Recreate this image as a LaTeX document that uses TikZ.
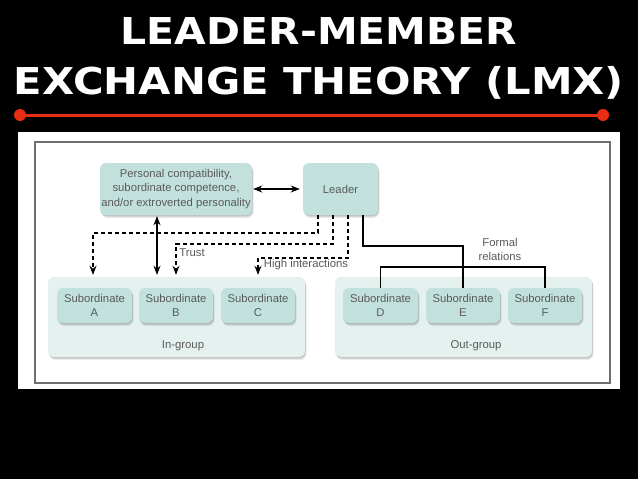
\documentclass[tikz,border=0pt]{standalone}
\usepackage{fontspec}
\setmainfont{Liberation Sans}
\newfontfamily\titlefont{DejaVu Sans}
\usetikzlibrary{arrows.meta}
\definecolor{redline}{RGB}{232,45,20}
\definecolor{boxfill}{RGB}{194,225,221}
\definecolor{groupfill}{RGB}{229,241,239}
\definecolor{txtgray}{RGB}{90,90,90}
\definecolor{framegray}{RGB}{110,110,110}
\tikzset{
  titletext/.style={text=white,anchor=base,inner sep=0pt,font=\titlefont\bfseries\fontsize{37}{40}\selectfont},
  reddot/.style={circle,fill=redline,minimum size=12pt,inner sep=0pt},
  softshadow/.style={
    preaction={fill=black,fill opacity=0.07,transform canvas={xshift=1.5pt,yshift=-3pt}},
    preaction={fill=black,fill opacity=0.09,transform canvas={xshift=1pt,yshift=-2pt}},
    preaction={fill=black,fill opacity=0.10,transform canvas={xshift=0.5pt,yshift=-1pt}}},
  tealbox/.style={rectangle,rounded corners=6pt,fill=boxfill,softshadow,inner sep=0pt,align=center,text=txtgray,font=\fontsize{11.3}{14.5}\selectfont},
  groupbox/.style={rectangle,rounded corners=6pt,fill=groupfill,softshadow,inner sep=0pt},
  lbl/.style={inner sep=0pt,align=center,text=txtgray,font=\fontsize{11.3}{14.5}\selectfont},
  conn/.style={line width=1.3pt,black},
  dconn/.style={line width=1.4pt,black,dash pattern=on 4pt off 3pt},
  tip/.style={-{Stealth[length=9pt,width=7pt]}},
  dtip/.style={{Stealth[length=9pt,width=7pt]}-{Stealth[length=9pt,width=7pt]}}
}
\begin{document}
\begin{tikzpicture}[x=1pt,y=-1pt]
\fill[black] (0,0) rectangle (638,479);
\useasboundingbox (0,0) rectangle (638,479);
% title
\node[titletext] (t1) at (319,45) {\scalebox{1.106}[1]{LEADER-MEMBER}};
\node[titletext] (t2) at (319,94) {\scalebox{1.129}[1]{EXCHANGE THEORY (LMX)}};
\node[reddot] (r1) at (20,115) {};
\node[reddot] (r2) at (603,115) {};
\draw[redline,line width=3pt] (r1.center) -- (r2.center);
% panel
\fill[white] (18,132) rectangle (620,389);
\draw[framegray,line width=1.5pt] (35,142) rectangle (610,383);
% groups
\node[groupbox,minimum width=257pt,minimum height=80pt] (ingroup) at (176.5,317) {};
\node[groupbox,minimum width=257pt,minimum height=80pt] (outgroup) at (463.5,317) {};
\node[lbl] (inl) at (183,346) {In-group};
\node[lbl] (outl) at (476,346) {Out-group};
% boxes
\node[tealbox,minimum width=152pt,minimum height=52pt] (pers) at (176,189) {Personal compatibility,\\subordinate competence,\\and/or extroverted personality};
\node[tealbox,minimum width=75pt,minimum height=52pt] (leader) at (340.5,189) {Leader};
\node[tealbox,minimum width=75pt,minimum height=35pt] (A) at (94.5,305.5) {Subordinate\\A};
\node[tealbox,minimum width=74pt,minimum height=35pt] (B) at (176,305.5) {Subordinate\\B};
\node[tealbox,minimum width=74pt,minimum height=35pt] (C) at (258,305.5) {Subordinate\\C};
\node[tealbox,minimum width=75pt,minimum height=35pt] (D) at (380.5,305.5) {Subordinate\\D};
\node[tealbox,minimum width=74pt,minimum height=35pt] (E) at (463,305.5) {Subordinate\\E};
\node[tealbox,minimum width=74pt,minimum height=35pt] (F) at (545,305.5) {Subordinate\\F};
% turn points
\coordinate (d1) at (318,233);
\coordinate (d1a) at (93,233);
\coordinate (d2) at (333,244);
\coordinate (d2a) at (176,244);
\coordinate (d3) at (348,258);
\coordinate (d3a) at (258,258);
\coordinate (s1) at (157,240);
\coordinate (f1) at (363,246);
\coordinate (f2) at (463,246);
\coordinate (b1) at (381,267);
% connectors
\draw[conn,dtip,shorten <=1pt,shorten >=3pt] (pers.east) -- (leader.west);
\draw[conn,dtip,shorten >=2pt,shorten <=1pt] (pers.south -| s1) -- (ingroup.north -| s1);
\draw[dconn,tip,shorten >=2pt] (leader.south -| d1) -- (d1) -- (d1a) -- (ingroup.north -| d1a);
\draw[dconn,tip,shorten >=2pt] (leader.south -| d2) -- (d2) -- (d2a) -- (ingroup.north -| d2a);
\draw[dconn,tip,shorten >=2pt] (leader.south -| d3) -- (d3) -- (d3a) -- (ingroup.north -| d3a);
\draw[conn] (leader.south -| f1) -- (f1) -- (f2) -- (E.north);
\draw[conn] (D.north) -- (D.north |- b1) -- (F.north |- b1) -- (F.north);
% labels
\node[lbl] (trust) at (192,253) {Trust};
\node[lbl] (high) at (306,265) {High interactions};
\node[lbl] (formal) at (500,249.5) {Formal\\relations};
\end{tikzpicture}
\end{document}
